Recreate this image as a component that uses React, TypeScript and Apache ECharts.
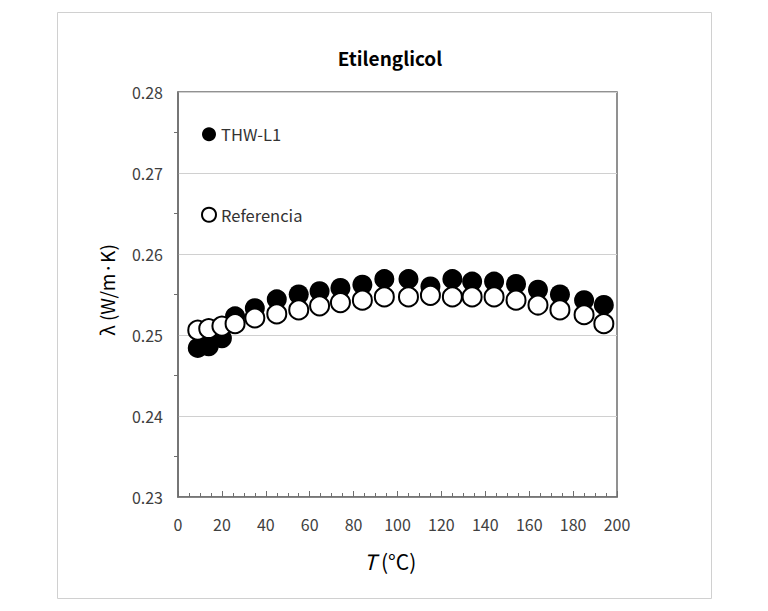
import React, { useEffect, useRef } from "react";
import * as echarts from "echarts";

const titleText = "Etilenglicol";
const seriesNames = ["THW-L1", "Referencia"];
const tempTHW = [9, 14, 20, 26, 35, 45, 55, 64.5, 74, 84, 94, 105, 115, 125, 134, 144, 154, 164, 174, 185, 194];
const lambdaTHW = [0.2484, 0.2486, 0.2496, 0.2523, 0.2533, 0.2544, 0.2550, 0.2554, 0.2558, 0.2562, 0.2569, 0.2569, 0.2560, 0.2569, 0.2566, 0.2566, 0.2563, 0.2556, 0.2550, 0.2543, 0.2537];
const tempRef = [9, 14, 20, 26, 35, 45, 55, 64.5, 74, 84, 94, 105, 115, 125, 134, 144, 154, 164, 174, 185, 194];
const lambdaRef = [0.2506, 0.2508, 0.2511, 0.2514, 0.2521, 0.2526, 0.2531, 0.2536, 0.2540, 0.2543, 0.2547, 0.2547, 0.2549, 0.2547, 0.2547, 0.2547, 0.2543, 0.2537, 0.2531, 0.2525, 0.2514];
const xAxisTitle = ["T", " (°C)"];
const yAxisTitle = "λ (W/m·K)";

const FONT = "'Noto Sans CJK KR', 'Noto Sans', sans-serif";

export default function App() {
  const ref = useRef<HTMLDivElement>(null);
  useEffect(() => {
    if (!ref.current) return;
    const chart = echarts.init(ref.current, null, { renderer: "svg" });
    const thw = tempTHW.map((t, i) => [t, lambdaTHW[i]]);
    const refd = tempRef.map((t, i) => [t, lambdaRef[i]]);
    chart.setOption({
      animation: false,
      backgroundColor: "#ffffff",
      textStyle: { fontFamily: FONT },
      graphic: [
        {
          type: "rect",
          shape: { x: 57.5, y: 12.5, width: 654, height: 586 },
          style: { fill: "none", stroke: "#d0d0d0", lineWidth: 1 },
          silent: true,
        },
        {
          type: "text",
          x: 390,
          y: 57,
          style: {
            text: titleText,
            fontFamily: FONT,
            fontSize: 19,
            fontWeight: "bold",
            fill: "#000",
            align: "center",
            verticalAlign: "middle",
          },
        },
        {
          type: "text",
          x: 390,
          y: 561,
          style: {
            text: "{i|" + xAxisTitle[0] + "}{n|" + xAxisTitle[1] + "}",
            align: "center",
            verticalAlign: "middle",
            rich: {
              i: { fontFamily: FONT, fontSize: 21, fontStyle: "italic", fill: "#000" },
              n: { fontFamily: FONT, fontSize: 21, fill: "#000" },
            },
          },
        },
        {
          type: "text",
          x: 106,
          y: 290,
          rotation: Math.PI / 2,
          style: {
            text: yAxisTitle,
            fontFamily: FONT,
            fontSize: 19,
            fill: "#000",
            align: "center",
            verticalAlign: "middle",
          },
        },
      ],
      legend: {
        orient: "vertical",
        left: 201,
        top: 126,
        padding: 0,
        itemWidth: 14,
        itemHeight: 14,
        itemGap: 64,
        itemStyle: { opacity: 1 },
        icon: "circle",
        textStyle: { fontFamily: FONT, fontSize: 16.5, color: "#333" },
        data: seriesNames,
      },
      grid: { left: 178, right: 151, top: 92, bottom: 114, show: true, borderColor: "#6e6e6e", borderWidth: 1.5 },
      xAxis: {
        type: "value",
        min: 0,
        max: 200,
        interval: 20,
        axisLine: { show: true, lineStyle: { color: "#6e6e6e", width: 1.5 } },
        axisTick: { show: true, inside: true, length: 6, lineStyle: { color: "#6e6e6e" } },
        minorTick: { show: true, splitNumber: 4, length: 4, lineStyle: { color: "#6e6e6e" } },
        axisLabel: { fontFamily: FONT, fontSize: 16, color: "#404040", margin: 19 },
        splitLine: { show: false },
      },
      yAxis: {
        type: "value",
        min: 0.23,
        max: 0.28,
        interval: 0.01,
        axisLine: { show: true, lineStyle: { color: "#6e6e6e", width: 1.5 } },
        axisTick: { show: false },
        minorTick: { show: true, splitNumber: 2, length: 4, lineStyle: { color: "#6e6e6e" } },
        axisLabel: { fontFamily: FONT, fontSize: 16, color: "#404040", margin: 15, formatter: (v: number) => v.toFixed(2) },
        splitLine: { show: true, lineStyle: { color: "#d0d0d0", width: 1 } },
      },
      series: [
        {
          name: seriesNames[0],
          type: "scatter",
          data: thw,
          symbol: "circle",
          symbolSize: 20,
          itemStyle: { color: "#000000", borderColor: "#000000", borderWidth: 0, opacity: 1 },
          z: 2,
        },
        {
          name: seriesNames[1],
          type: "scatter",
          data: refd,
          symbol: "circle",
          symbolSize: 19,
          itemStyle: { color: "#ffffff", borderColor: "#000000", borderWidth: 2, opacity: 1 },
          z: 3,
        },
      ],
    });
    return () => chart.dispose();
  }, []);
  return <div ref={ref} style={{ width: 768, height: 611, position: "absolute", left: 0, top: 0 }} />;
}
